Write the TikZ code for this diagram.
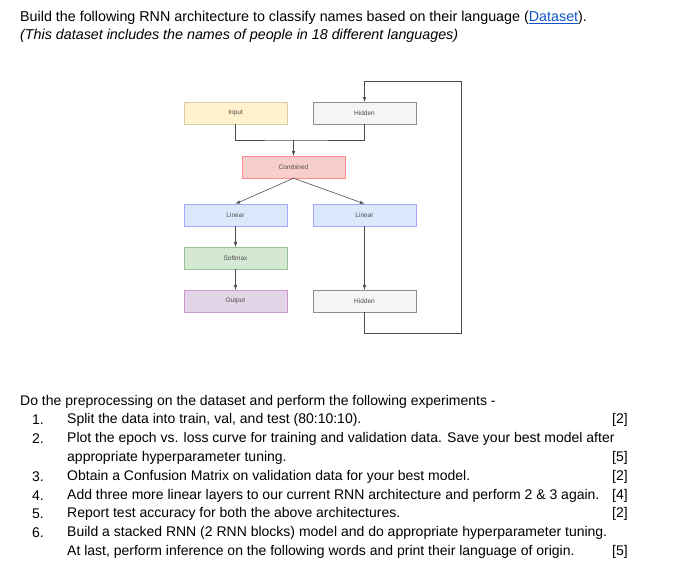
\documentclass[tikz,border=0pt]{standalone}
\usepackage{fontspec}
\setmainfont{Liberation Sans}
\usetikzlibrary{positioning}
\definecolor{linkblue}{HTML}{1155CC}
\definecolor{inyel}{HTML}{FFF2CC}
\definecolor{combred}{HTML}{F8CECC}
\definecolor{linblue}{HTML}{DAE8FC}
\definecolor{softgreen}{HTML}{D5E8D4}
\definecolor{outviolet}{HTML}{E1D5E7}
\begin{document}
\begin{tikzpicture}[x=1pt,y=-1pt,
  block/.style={draw=black!45, minimum width=103pt, minimum height=22pt, font=\fontsize{6.5}{7}\selectfont, text=black!70},
  txt/.style={anchor=west, inner sep=0pt, font=\fontsize{14}{16}\selectfont},
  num/.style={anchor=west, inner sep=0pt, font=\fontsize{14}{16}\selectfont},
  score/.style={anchor=east, inner sep=0pt, font=\fontsize{14}{16}\selectfont},
  arr/.style={->, >=latex, draw=black!70, line width=0.6pt}]
  \useasboundingbox (0,0) rectangle (682,585);

  % heading
  \node[txt, font=\fontsize{14.3}{16}\selectfont] (head) at (20,18) {Build the following RNN architecture to classify names based on their language (\textcolor{linkblue}{\underline{Dataset}}).};
  \node[txt, font=\fontsize{14.3}{16}\selectfont\itshape] (sub) at (20,36) {(This dataset includes the names of people in 18 different languages)};

  % blocks
  \node[block, fill=inyel, draw=yellow!50!black!40] (input) at (235.5,113) {Input};
  \node[block, fill=black!4] (hidden) at (364.5,113) {Hidden};
  \node[block, fill=combred, draw=red!45] (comb) at (293.5,167) {Combined};
  \node[block, fill=linblue, draw=blue!35] (linl) at (235.5,215) {Linear};
  \node[block, fill=linblue, draw=blue!35] (linr) at (364.5,215) {Linear};
  \node[block, fill=softgreen, draw=green!40!black!40] (soft) at (235.5,258) {Softmax};
  \node[block, fill=outviolet, draw=violet!40] (out) at (235.5,301) {Output};
  \node[block, fill=black!4] (hidout) at (364.5,301) {Hidden};
  \coordinate (join) at (293.5,140);

  % connectors
  \draw[draw=black!70, line width=0.6pt] (input.south) |- (join) -| (hidden.south);
  \draw[arr] (join) -- (comb.north);
  \draw[arr] (comb.south) -- (linl.north);
  \draw[arr] (comb.south) -- (linr.north);
  \draw[arr] (linl) -- (soft);
  \draw[arr] (soft) -- (out);
  \draw[arr] (linr) -- (hidout);
  \draw[arr] (hidout.south) -- ++(0,21) -| (461,81) -| (hidden.north);

  % tasks
  \node[txt] (intro) at (20,402) {Do the preprocessing on the dataset and perform the following experiments -};
  \foreach \n/\y/\t/\m in {
    1/420/{Split the data into train, val, and test (80:10:10).}/{[2]},
    2/439/{Plot the epoch vs. loss curve for training and validation data. Save your best model after}/{},
    3/477/{Obtain a Confusion Matrix on validation data for your best model.}/{[2]},
    4/496/{Add three more linear layers to our current RNN architecture and perform 2 \& 3 again.}/{[4]},
    5/514/{Report test accuracy for both the above architectures.}/{[2]},
    6/533/{Build a stacked RNN (2 RNN blocks) model and do appropriate hyperparameter tuning.}/{}}{
    \node[num] (n\n) at (32,\y) {\n.};
    \node[txt] (t\n) at (67,\y) {\t};
    \node[score] (m\n) at (628,\y) {\m};
  }
  \node[txt] (t2b) at (67,458) {appropriate hyperparameter tuning.};
  \node[score] (m2b) at (628,458) {[5]};
  \node[txt] (t6b) at (67,552) {At last, perform inference on the following words and print their language of origin.};
  \node[score] (m6b) at (628,552) {[5]};
\end{tikzpicture}
\end{document}
